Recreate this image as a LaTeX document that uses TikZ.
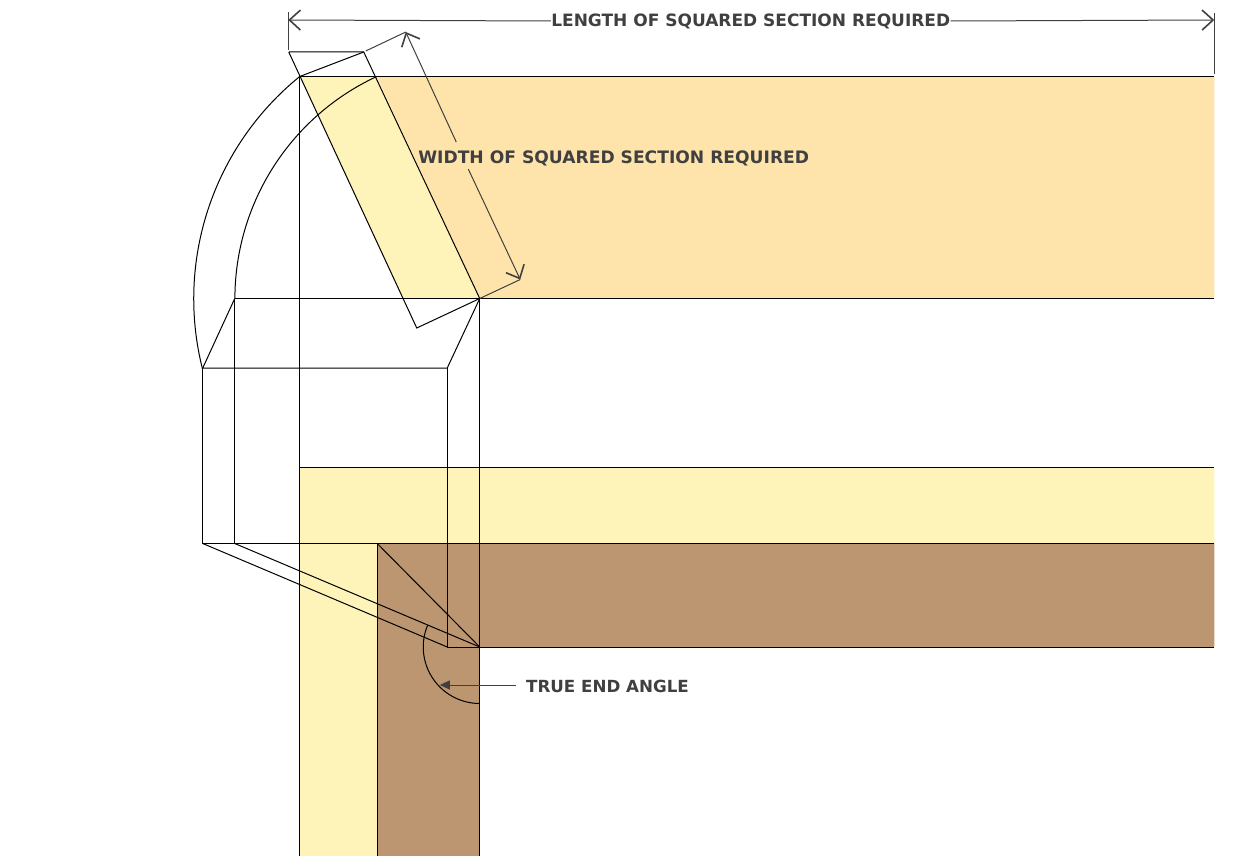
\documentclass[tikz,border=0pt]{standalone}
\usepackage{fontspec}
\setmainfont{DejaVu Sans}
\usetikzlibrary{arrows.meta}
\definecolor{paleyellow}{HTML}{FEF3B9}
\definecolor{paleorange}{HTML}{FEE4AA}
\definecolor{woodbrown}{HTML}{BC9671}
\definecolor{inkgrey}{HTML}{404040}
\tikzset{
  outline/.style={draw=black,line width=0.5pt,line join=miter},
  dimline/.style={draw=inkgrey,line width=0.5pt},
  dimtipstart/.style={{Straight Barb[length=5.5pt,width=10pt,color=inkgrey,line width=0.8pt]}-},
  dimtipend/.style={-{Straight Barb[length=5.5pt,width=10pt,color=inkgrey,line width=0.8pt]}},
  label/.style={inner sep=0pt,text=inkgrey,font=\fontsize{#1}{10}\selectfont\bfseries}
}
\begin{document}
\begin{tikzpicture}[x=0.5pt,y=-0.5pt]
\useasboundingbox (0,0) rectangle (1254,856);
\begin{scope}[shift={(-0.25,0)}]
% key points
\coordinate (bl) at (300,76.5);
\coordinate (br) at (377,76.5);
\coordinate (tr) at (1214.5,76.5);
\coordinate (lr) at (1214.5,298.5);
\coordinate (c) at (480,298.5);
\coordinate (yb) at (403,298.5);
\coordinate (cap1) at (289,52);
\coordinate (cap2) at (364,52);
\coordinate (foot) at (417,328);
\coordinate (i1) at (235,298.5);
\coordinate (o1) at (203,368);
\coordinate (o2) at (447.5,368);
\coordinate (p1) at (203,543.5);
\coordinate (p2) at (235,543.5);
\coordinate (p3) at (377.5,543.5);
\coordinate (p4) at (1214.5,543.5);
\coordinate (q1) at (447.5,647);
\coordinate (q2) at (480,647);
\coordinate (q3) at (1214.5,647);
\coordinate (h1) at (300,467.5);
\coordinate (h2) at (1214.5,467.5);
\coordinate (s1) at (300,857);
\coordinate (s2) at (377.5,857);
\coordinate (s3) at (480,857);
\coordinate (ang) at (480,703.5);
% fills
\fill[paleorange] (br) -- (tr) -- (lr) -- (c) -- cycle;
\fill[paleyellow] (bl) -- (br) -- (c) -- (yb) -- cycle;
\fill[paleyellow] (h1) -- (h2) -- (p4) -- (p3) -- (s2) -- (s1) -- cycle;
\fill[woodbrown] (p3) -- (p4) -- (q3) -- (q2) -- (s3) -- (s2) -- cycle;
% timber outlines
\draw[outline] (bl) -- (tr);
\draw[outline] (i1) -- (lr);
\draw[outline] (h1) -- (h2);
\draw[outline] (p1) -- (p4);
\draw[outline] (q1) -- (q3);
\draw[outline] (bl) -- (s1);
\draw[outline] (p3) -- (s2);
\draw[outline] (c) -- (s3);
\draw[outline] (o2) -- (q1);
\draw[outline] (i1) -- (p2);
\draw[outline] (o1) -- (p1);
% squared section
\draw[outline] (cap1) -- (cap2) -- (c) -- (foot) -- (cap1);
\draw[outline] (bl) -- (cap2);
% projections
\draw[outline] (i1) -- (o1) -- (o2) -- (c);
\draw[outline] (p1) -- (q1);
\draw[outline] (p2) -- (q2);
\draw[outline] (p3) -- (q2);
% arcs about the corner
\draw[outline] (bl) arc[start angle=129,end angle=194.2,radius=143pt];
\draw[outline] (br) arc[start angle=114.9,end angle=180,radius=122.5pt];
\draw[outline] (ang) arc[start angle=270,end angle=157.5,radius=28.25pt];
% labels
\node[label=8.5,anchor=center] (lenlab) at (751,21) {LENGTH OF SQUARED SECTION REQUIRED};
\node[label=8.57,anchor=center] (widlab) at (614,158) {WIDTH OF SQUARED SECTION REQUIRED};
\node[label=8.35,anchor=west] (anglab) at (526,686) {TRUE END ANGLE};
% length dimension
\coordinate (la) at (288.5,20);
\coordinate (lb) at (1214.5,20);
\coordinate (lae) at (288.5,50);
\coordinate (lbe) at (1214.5,74);
\coordinate (las) at (288.5,12);
\coordinate (lbs) at (1214.5,13);
\draw[dimline] (las) -- (lae);
\draw[dimline] (lbs) -- (lbe);
\draw[dimline,dimtipstart] (la) -- (lenlab.west);
\draw[dimline,dimtipend] (lenlab.east) -- (lb);
% width dimension
\coordinate (wa) at (406,32);
\coordinate (wb) at (520.5,279.5);
\coordinate (wg1) at (456.5,142);
\coordinate (wg2) at (468.5,169);
\coordinate (wx) at (366,51);
\draw[dimline] (wx) -- (wa);
\draw[dimline] (c) -- (wb);
\draw[dimline,dimtipstart] (wa) -- (wg1);
\draw[dimline,dimtipend] (wg2) -- (wb);
% angle leader
\coordinate (lead) at (440,685);
\coordinate (leadstart) at (516,685);
\draw[dimline,-{Triangle[length=5pt,width=4.5pt,color=inkgrey]}] (leadstart) -- (lead);
\end{scope}
\end{tikzpicture}
\end{document}
